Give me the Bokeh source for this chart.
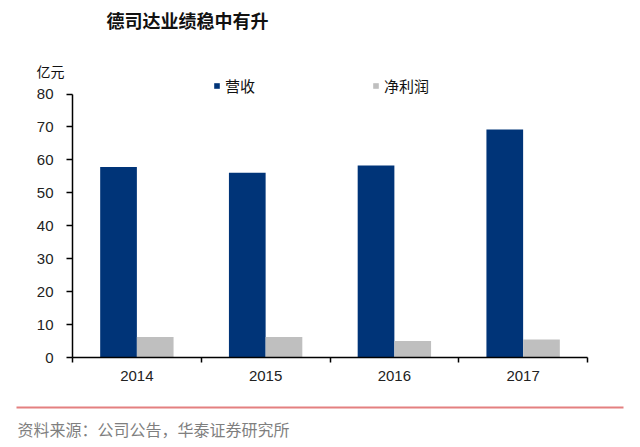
from bokeh.plotting import figure
from bokeh.models import (ColumnDataSource, FixedTicker, Legend, LegendItem, Range1d,
                          Label, BoxAnnotation)
from bokeh.embed import file_html
from bokeh.resources import INLINE

# ---- data ----
years = ["2014", "2015", "2016", "2017"]
revenue = [57.8, 56.1, 58.3, 69.2]      # 营收 (亿元)
net_profit = [6.2, 6.2, 5.0, 5.5]        # 净利润 (亿元)
y_ticks = [0, 10, 20, 30, 40, 50, 60, 70, 80]

title_text = "德司达业绩稳中有升"
unit_text = "亿元"
series_names = ["营收", "净利润"]
source_text = "资料来源：公司公告，华泰证券研究所"

BLUE = "#003478"
GRAY = "#BFBFBF"
RED = "#E48080"
CJK = "Noto Sans CJK SC"
LAT = "Liberation Sans"

W, H = 640, 447
# pixel box of the plotting area inside the canvas
PX_L, PX_R, PX_T, PX_B = 72, 587, 93.5, 357

n = len(years)
ymax = y_ticks[-1]
kx = (PX_R - PX_L) / n
ky = (PX_B - PX_T) / ymax
x_range = Range1d(-PX_L / kx, n + (W - PX_R) / kx)
y_range = Range1d(-(H - PX_B) / ky, ymax + PX_T / ky)

idx = list(range(n))
bar_w = 0.285
src = ColumnDataSource(dict(
    xb=[i + 0.5 - bar_w / 2 for i in idx],
    xg=[i + 0.5 + bar_w / 2 for i in idx],
    rev=revenue, np_=net_profit))

p = figure(width=W, height=H, output_backend="svg", toolbar_location=None,
           x_range=x_range, y_range=y_range, min_border=0)
p.title.visible = False
p.outline_line_color = None
p.xgrid.visible = False
p.ygrid.visible = False
p.background_fill_color = "white"
p.border_fill_color = "white"

rb = p.vbar(x="xb", top="rev", width=bar_w, bottom=0, source=src,
            fill_color=BLUE, line_color=None)
rg = p.vbar(x="xg", top="np_", width=bar_w, bottom=0, source=src,
            fill_color=GRAY, line_color=None)

ya = p.yaxis[0]
ya.fixed_location = 0
ya.bounds = (0, ymax)
ya.ticker = FixedTicker(ticks=y_ticks, minor_ticks=[])
ya.axis_line_color = "black"
ya.axis_line_width = 1.5
ya.major_tick_line_color = "black"
ya.major_tick_line_width = 1.5
ya.major_tick_in = 0
ya.major_tick_out = 6
ya.minor_tick_line_color = None
ya.major_label_text_font = LAT
ya.major_label_text_font_size = "15px"
ya.major_label_text_color = "#222222"
ya.major_label_standoff = 13

xa = p.xaxis[0]
xa.fixed_location = 0
xa.bounds = (0, n)
centers = [i + 0.5 for i in idx]
xa.ticker = FixedTicker(ticks=centers, minor_ticks=list(range(n + 1)))
xa.major_label_overrides = {c: y for c, y in zip(centers, years)}
xa.axis_line_color = "black"
xa.axis_line_width = 1.5
xa.major_tick_line_color = None
xa.major_tick_out = 5
xa.minor_tick_line_color = "black"
xa.minor_tick_line_width = 1.5
xa.minor_tick_in = 0
xa.minor_tick_out = 5
xa.major_label_text_font = LAT
xa.major_label_text_font_size = "15px"
xa.major_label_text_color = "#222222"
xa.major_label_standoff = 8

lg = Legend(items=[LegendItem(label=series_names[0], renderers=[rb]),
                   LegendItem(label=series_names[1], renderers=[rg])],
            location=(213, H - 96), orientation="horizontal",
            glyph_width=7, glyph_height=7, label_standoff=5, label_height=10,
            label_text_font=CJK, label_text_font_size="15px",
            label_text_color="#111111", padding=0, margin=0, spacing=117,
            border_line_color=None, background_fill_alpha=0)
p.add_layout(lg)

p.add_layout(Label(x=106, y=H - 19, x_units="screen", y_units="screen",
                   text=title_text, text_font=CJK, text_font_size="18px",
                   text_font_style="bold", text_color="#111111",
                   text_baseline="middle"))
p.add_layout(Label(x=36, y=H - 70, x_units="screen", y_units="screen",
                   text=unit_text, text_font=CJK, text_font_size="14px",
                   text_color="#111111", text_baseline="middle"))
p.add_layout(Label(x=17, y=H - 428, x_units="screen", y_units="screen",
                   text=source_text, text_font=CJK, text_font_size="16px",
                   text_color="#7f7f7f", text_baseline="middle"))
p.add_layout(BoxAnnotation(left=16, right=623, top=H - 406, bottom=H - 408,
                           left_units="screen", right_units="screen",
                           top_units="screen", bottom_units="screen",
                           fill_color=RED, fill_alpha=1, line_color=None))

open("out.html", "w").write(file_html(p, INLINE))
